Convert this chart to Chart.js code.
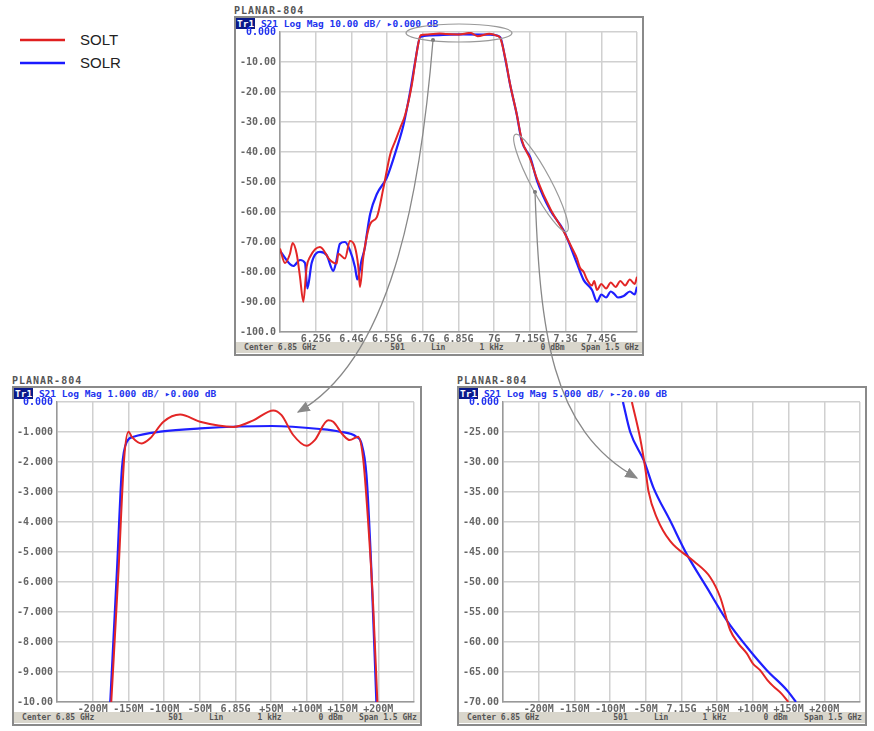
<!DOCTYPE html>
<html>
<head>
<meta charset="utf-8">
<script src="https://cdn.jsdelivr.net/npm/chart.js@4.4.1/dist/chart.umd.min.js"></script>
<style>
  body { margin: 0; background: #fff; font-family: "Liberation Sans", Arial, sans-serif; }
  #page { position: relative; width: 874px; height: 731px; overflow: hidden; }
  .box { position: absolute; border: 2px solid #8a8a8a; background: #fff; box-sizing: border-box; }
  .title { position: absolute; font: bold 10px "DejaVu Sans Mono", monospace; color: #555; letter-spacing: 1px; z-index: 3; }
  .hdr { position: absolute; font: bold 9.5px "DejaVu Sans Mono", monospace; color: #2233ee; white-space: pre; }
  .hdr b { background: #0a1a8a; color: #fff; padding: 0 1px; }
  .foot { position: absolute; background: #d9d6cc; font: bold 8px "DejaVu Sans Mono", monospace; color: #555; }
  .foot span { position: absolute; top: 1px; }
  canvas.plot { position: absolute; }
  .leg { position: absolute; font-size: 15px; color: #222; }
</style>
</head>
<body>
<div id="page"></div>
<svg width="874" height="731" style="position:absolute;left:0;top:0;pointer-events:none;z-index:5">
  <defs>
    <marker id="ah" markerWidth="10" markerHeight="8" refX="9" refY="4" orient="auto">
      <path d="M0,0 L10,4 L0,8 z" fill="#888"/>
    </marker>
  </defs>
  <ellipse cx="459" cy="33" rx="53" ry="9" fill="none" stroke="#999" stroke-width="1.2"/>
  <ellipse cx="541" cy="183" rx="55" ry="10" fill="none" stroke="#999" stroke-width="1.2" transform="rotate(62 541 183)"/>
  <circle cx="433" cy="40" r="2" fill="#777"/>
  <path d="M433,40 C420,200 390,360 298,412" fill="none" stroke="#888" stroke-width="1.3" marker-end="url(#ah)"/>
  <circle cx="535" cy="192" r="2" fill="#777"/>
  <path d="M535,192 C540,330 550,430 637,478" fill="none" stroke="#888" stroke-width="1.3" marker-end="url(#ah)"/>
  <line x1="20" y1="40" x2="65" y2="40" stroke="#e02020" stroke-width="2.5"/>
  <line x1="20" y1="63" x2="65" y2="63" stroke="#1a1aff" stroke-width="2.5"/>
</svg>
<script>
// ---- top panel: wideband S21 (GHz, dB) ----
const topSoltX = [6.1, 6.121, 6.142, 6.153, 6.17, 6.184, 6.198, 6.212, 6.226, 6.268, 6.31, 6.338, 6.345, 6.373, 6.394, 6.415, 6.429, 6.436, 6.45, 6.479, 6.507, 6.535, 6.563, 6.584, 6.605, 6.626, 6.654, 6.675, 6.691, 6.72, 6.77, 6.8, 6.85, 6.9, 6.93, 6.98, 7.01, 7.025, 7.046, 7.067, 7.095, 7.116, 7.152, 7.18, 7.236, 7.292, 7.33, 7.348, 7.36, 7.376, 7.39, 7.411, 7.42, 7.432, 7.45, 7.47, 7.49, 7.51, 7.53, 7.55, 7.57, 7.59, 7.6];
const topSoltY = [-72.2, -77, -73.9, -70.3, -73.9, -81.6, -89.9, -78.3, -75, -71.7, -76, -77.2, -73.9, -75.5, -69.7, -71.7, -78.3, -85, -75, -64, -61.7, -51.8, -40.8, -36.4, -32, -27.6, -17.6, -6.6, -1.1, -0.8, -0.5, -0.7, -0.8, -0.3, -1.4, -0.6, -1.2, -2.0, -8.5, -17.5, -27.5, -36.0, -42.5, -49.0, -59.0, -66.5, -72.5, -75.5, -78.5, -80.0, -82.5, -84.5, -83.0, -86.0, -84.0, -85.5, -83.5, -85.0, -83.0, -84.5, -82.5, -84.0, -81.6];
const topSolrX = [6.1, 6.156, 6.184, 6.205, 6.215, 6.233, 6.268, 6.296, 6.324, 6.335, 6.352, 6.373, 6.394, 6.415, 6.425, 6.443, 6.457, 6.465, 6.479, 6.507, 6.549, 6.591, 6.619, 6.647, 6.668, 6.689, 6.731, 6.871, 6.983, 7.025, 7.046, 7.067, 7.095, 7.116, 7.152, 7.18, 7.236, 7.292, 7.348, 7.376, 7.411, 7.432, 7.45, 7.47, 7.49, 7.502, 7.52, 7.544, 7.57, 7.59, 7.6];
const topSolrY = [-73, -78, -76, -77, -85.5, -77, -73.3, -74.4, -79.6, -77, -70.6, -70, -72.8, -78.3, -82.5, -76, -71.7, -67.3, -60.6, -54, -48.5, -38.6, -30.9, -19.8, -9.9, -1.7, -1.1, -0.8, -0.9, -1.7, -8.8, -17.6, -27.6, -36.4, -41.9, -49.6, -59.5, -66.2, -77.2, -82.7, -86, -89.9, -87.5, -88.5, -86.5, -87.1, -88.5, -88, -86.5, -87.5, -84.9];
const topXTicks = [6.1, 6.25, 6.4, 6.55, 6.7, 6.85, 7.0, 7.15, 7.3, 7.45, 7.6];
const topXLabels = ['', '6.25G', '6.4G', '6.55G', '6.7G', '6.85G', '7G', '7.15G', '7.3G', '7.45G', ''];
const topYLabels = ['0.000', '-10.00', '-20.00', '-30.00', '-40.00', '-50.00', '-60.00', '-70.00', '-80.00', '-90.00', '-100.0'];

// ---- bottom-left: passband zoom (MHz offset from 6.85 GHz, dB) ----
const passSoltX = [-174, -163.8, -155.9, -149.8, -145.2, -131.2, -119.5, -100.9, -77.6, -49.6, -3, 25, 52.9, 64.5, 80.8, 99.5, 111, 129.8, 136.8, 150.7, 160, 171.7, 178.7, 185.7, 192.7, 198.7];
const passSoltY = [-10, -5.6, -1.87, -0.99, -1.16, -1.38, -1.21, -0.66, -0.42, -0.66, -0.83, -0.61, -0.28, -0.44, -1.10, -1.46, -1.27, -0.61, -0.66, -1.10, -1.27, -1.16, -1.87, -3.97, -6.73, -10];
const passSolrX = [-175.4, -166, -159, -152, -142.8, -105.5, -49.6, 50.5, 118, 146, 169.4, 176.4, 183.4, 190.3, 197.3];
const passSolrY = [-10, -5.6, -2.2, -1.32, -1.16, -0.99, -0.88, -0.80, -0.90, -0.99, -1.16, -1.38, -2.43, -5.6, -10];
const passXLabels = ['', '-200M', '-150M', '-100M', '-50M', '6.85G', '+50M', '+100M', '+150M', '+200M', ''];
const passYLabels = ['0.000', '-1.000', '-2.000', '-3.000', '-4.000', '-5.000', '-6.000', '-7.000', '-8.000', '-9.000', '-10.00'];

// ---- bottom-right: upper skirt zoom (MHz offset from 7.15 GHz, dB) ----
const skirtSoltX = [-69.5, -57.8, -50.8, -46.2, -34.5, -15.8, 16.8, 40.2, 54.1, 68.1, 80, 91.4, 100, 110, 120, 128.7, 140, 149.7];
const skirtSoltY = [-20, -26.1, -31, -34.9, -39.3, -43.2, -46.5, -49.2, -52.5, -58, -60.3, -61.9, -63.6, -64.7, -66.3, -67.4, -68.6, -70];
const skirtSolrX = [-82, -71.8, -52.2, -39.2, -15.8, 7.5, 35.4, 63.4, 91.4, 119.4, 147.4, 160.4];
const skirtSolrY = [-20, -25, -29.9, -34.3, -39.8, -45.4, -50.9, -56.4, -60.8, -64.7, -68, -70];
const skirtXLabels = ['', '-200M', '-150M', '-100M', '-50M', '7.15G', '+50M', '+100M', '+150M', '+200M', ''];
const skirtYLabels = ['0.000', '-25.00', '-30.00', '-35.00', '-40.00', '-45.00', '-50.00', '-55.00', '-60.00', '-65.00', '-70.00'];

const RED = '#e32626', BLUE = '#1f1fff';
const page = document.getElementById('page');

function pts(xs, ys) { return xs.map((x, i) => ({ x: x, y: ys[i] })); }

function addEl(cls, css, html) {
  const d = document.createElement('div');
  d.className = cls;
  Object.assign(d.style, css);
  d.innerHTML = html;
  page.appendChild(d);
  return d;
}

function panel(p) {
  // frame, title, header, footer
  addEl('box', { left: p.box[0] + 'px', top: p.box[1] + 'px', width: p.box[2] + 'px', height: p.box[3] + 'px' }, '');
  addEl('title', { left: p.box[0] + 'px', top: (p.box[1] - 11) + 'px' }, 'PLANAR-804');
  addEl('hdr', { left: (p.box[0] + 2) + 'px', top: (p.box[1] + 2) + 'px' }, '<b>Tr1</b> ' + p.hdr);
  const f = addEl('foot', { left: (p.box[0] + 2) + 'px', top: (p.box[1] + p.box[3] - 14) + 'px', width: (p.box[2] - 4) + 'px', height: '11px' }, '');
  const w = p.box[2] - 4;
  [['Center 6.85 GHz', 0.02], ['501', 0.38], ['Lin', 0.48], ['1 kHz', 0.6], ['0 dBm', 0.75], ['Span 1.5 GHz', 0.85]]
    .forEach(([t, r]) => { const s = document.createElement('span'); s.textContent = t; s.style.left = (r * w) + 'px'; f.appendChild(s); });

  const [L, T, R, B] = p.plot;
  const YW = 52, PT = 8, PR = 8, XH = 14;
  const cv = document.createElement('canvas');
  cv.className = 'plot';
  cv.style.left = (L - YW) + 'px';
  cv.style.top = (T - PT) + 'px';
  cv.style.width = (R - L + YW + PR) + 'px';
  cv.style.height = (B - T + PT + XH) + 'px';
  cv.width = R - L + YW + PR; cv.height = B - T + PT + XH;
  page.appendChild(cv);

  const tickFont = { family: 'DejaVu Sans Mono', size: 10, weight: 'bold' };
  new Chart(cv, {
    type: 'line',
    data: {
      datasets: [
        { label: 'SOLT', data: pts(p.redX, p.redY), borderColor: RED, borderWidth: 2, pointRadius: 0, cubicInterpolationMode: 'monotone' },
        { label: 'SOLR', data: pts(p.blueX, p.blueY), borderColor: BLUE, borderWidth: 2.2, pointRadius: 0, cubicInterpolationMode: 'monotone' }
      ]
    },
    options: {
      responsive: false, animation: false, devicePixelRatio: 1,
      layout: { padding: { top: PT, right: PR, left: 0, bottom: 0 } },
      plugins: { legend: { display: false }, tooltip: { enabled: false } },
      scales: {
        x: {
          type: 'linear', min: p.xTicks[0], max: p.xTicks[p.xTicks.length - 1],
          afterBuildTicks: s => { s.ticks = p.xTicks.map(v => ({ value: v })); },
          afterFit: s => { s.height = XH; },
          ticks: { autoSkip: false, maxRotation: 0, padding: 1, color: '#666', font: tickFont, callback: (v, i) => p.xLabels[i] },
          grid: { color: '#d0d0d0', lineWidth: 1.5, drawTicks: false },
          border: { color: '#999', width: 1.5 }
        },
        y: {
          type: 'linear', min: p.yMin, max: p.yMax,
          afterBuildTicks: s => { s.ticks = p.yLabels.map((_, i) => ({ value: p.yMax - i * (p.yMax - p.yMin) / 10 })); },
          afterFit: s => { s.width = YW; },
          ticks: { autoSkip: false, padding: 4, font: tickFont, color: c => c.index === 0 ? '#2233ee' : '#666', callback: (v, i) => p.yLabels[i] },
          grid: { color: '#d0d0d0', lineWidth: 1.5, drawTicks: false },
          border: { color: '#999', width: 1.5 }
        }
      }
    }
  });
}

panel({
  box: [234, 16, 410, 340], plot: [280, 30, 637, 332], hdr: 'S21 Log Mag 10.00 dB/ \u25b80.000 dB',
  redX: topSoltX, redY: topSoltY, blueX: topSolrX, blueY: topSolrY,
  xTicks: topXTicks, xLabels: topXLabels, yMin: -100, yMax: 0, yLabels: topYLabels
});
const offTicks = [-250, -200, -150, -100, -50, 0, 50, 100, 150, 200, 250];
panel({
  box: [12, 386, 410, 340], plot: [57, 400, 414, 702], hdr: 'S21 Log Mag 1.000 dB/ \u25b80.000 dB',
  redX: passSoltX, redY: passSoltY, blueX: passSolrX, blueY: passSolrY,
  xTicks: offTicks, xLabels: passXLabels, yMin: -10, yMax: 0, yLabels: passYLabels
});
panel({
  box: [457, 386, 410, 340], plot: [503, 400, 860, 702], hdr: 'S21 Log Mag 5.000 dB/ \u25b8-20.00 dB',
  redX: skirtSoltX, redY: skirtSoltY, blueX: skirtSolrX, blueY: skirtSolrY,
  xTicks: offTicks, xLabels: skirtXLabels, yMin: -70, yMax: -20, yLabels: skirtYLabels
});

addEl('leg', { left: '80px', top: '31px' }, 'SOLT');
addEl('leg', { left: '80px', top: '54px' }, 'SOLR');
</script>
</body>
</html>
